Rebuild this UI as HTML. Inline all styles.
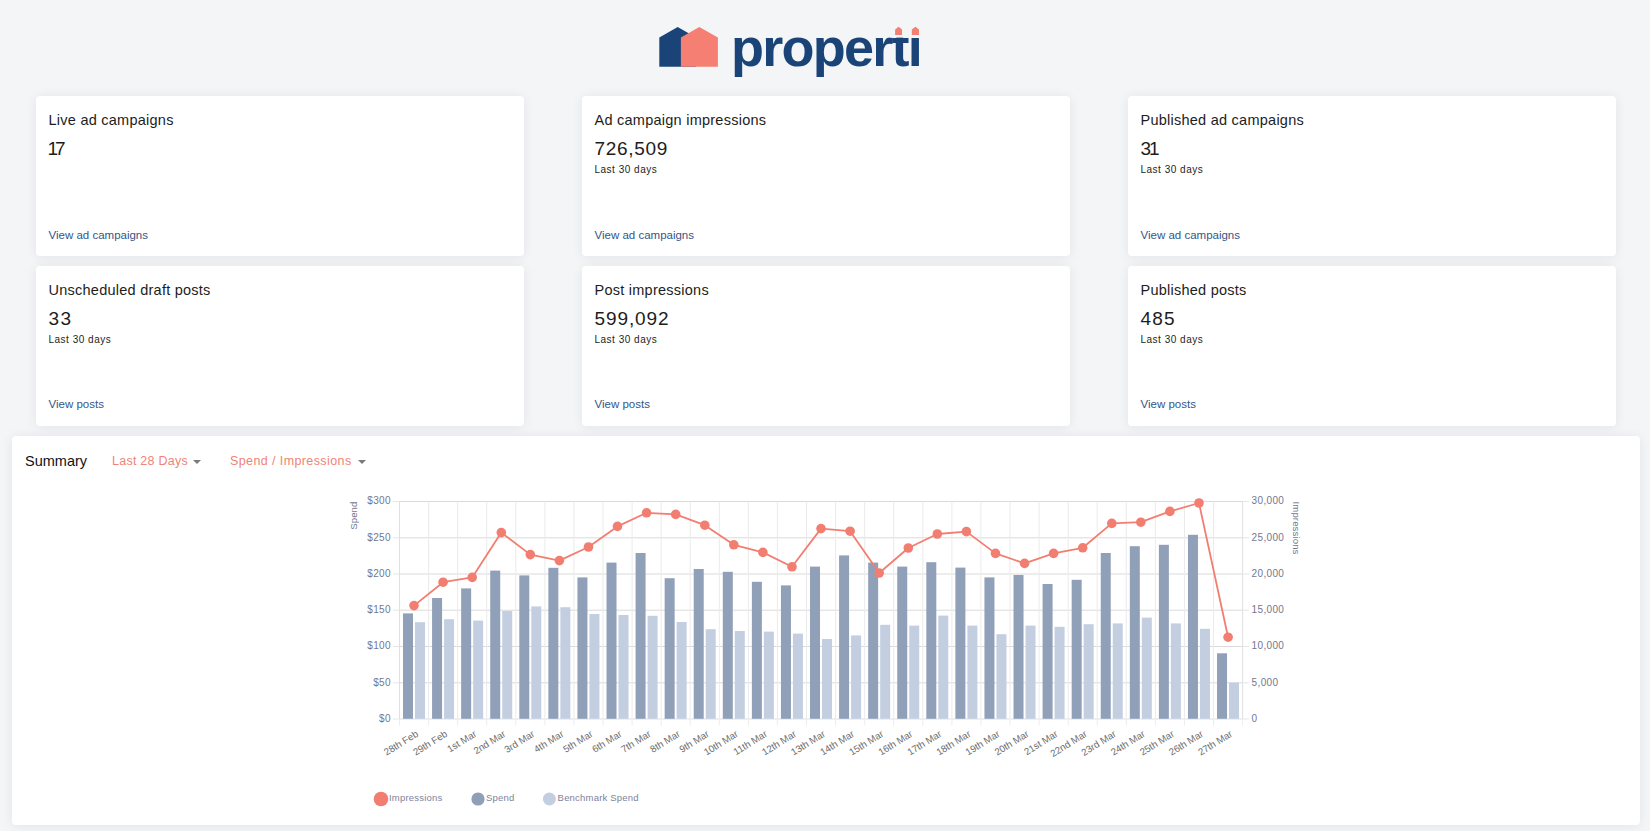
<!DOCTYPE html>
<html lang="en"><head><meta charset="utf-8"><title>properti dashboard</title>
<style>
*{box-sizing:border-box;margin:0;padding:0}
html,body{width:1650px;height:831px;overflow:hidden;background:#f4f5f7;font-family:"Liberation Sans",Arial,sans-serif;color:#1b1b1b}
.abs{position:absolute}
.logo-mark{position:absolute;left:659px;top:26px}
.logo-dots{position:absolute;left:890px;top:24px;z-index:5}
.logo-text{position:absolute;left:731px;top:15.5px;font-weight:bold;font-size:54px;line-height:62px;color:#1a4478;letter-spacing:-1.75px;white-space:nowrap}
.card{position:absolute;width:488px;height:160px;background:#fff;border-radius:4px;box-shadow:0 1px 12px rgba(20,25,35,.075)}
.ct{position:absolute;left:12.5px;top:15px;font-size:14.5px;letter-spacing:.25px;line-height:18px;white-space:nowrap;color:#1d1d1d}
.cn{position:absolute;left:12.5px;top:42px;font-size:19px;line-height:22px;white-space:nowrap;color:#1d1d1d}
.cs{position:absolute;left:12.5px;top:68px;font-size:10px;letter-spacing:.5px;line-height:12px;white-space:nowrap;color:#1d1d1d}
.cl{position:absolute;left:12.5px;top:132px;font-size:11.5px;line-height:14px;white-space:nowrap;color:#36558a}
.panel{position:absolute;left:12px;top:436px;width:1628px;height:389px;background:#fff;border-radius:4px;box-shadow:0 1px 12px rgba(20,25,35,.075)}
.sum{position:absolute;left:25px;top:451.5px;font-size:14.5px;line-height:18px;color:#111}
.dd{position:absolute;top:452.5px;font-size:12.5px;line-height:16px;color:#f08377;white-space:nowrap}
.caret{position:absolute;top:460px;width:0;height:0;border-left:4px solid transparent;border-right:4px solid transparent;border-top:4.5px solid #7a7a7a}
.chart{position:absolute;left:0;top:0}
</style></head><body>
<svg class="logo-mark" width="60" height="42" viewBox="659 26 60 42">
<polygon points="659.3,37.4 677.7,26.9 696,37.4 696,66.8 659.3,66.8" fill="#1a4478"/>
<polygon points="680.9,37.4 699.3,26.9 717.9,37.4 717.9,66.8 680.9,66.8" fill="#f57f72"/>
</svg>
<svg class="logo-dots" width="40" height="14" viewBox="890 24 40 14">
<rect x="888" y="20" width="40" height="17.6" fill="#f4f5f7"/>
<polygon points="895.1,29.4 898.6,26.8 902,29.4 902,34.9 895.1,34.9" fill="#f57f72"/>
<polygon points="911.8,29.4 915.4,26.8 919,29.4 919,34.9 911.8,34.9" fill="#f57f72"/>
</svg>
<div class="logo-text">properti</div>
<div class="card" style="left:36px;top:96px">
<div class="ct">Live ad campaigns</div><div class="cn" style="letter-spacing:-3.0px;left:11.5px">17</div>
<a class="cl">View ad campaigns</a></div>
<div class="card" style="left:582px;top:96px">
<div class="ct">Ad campaign impressions</div><div class="cn" style="letter-spacing:0.67px">726,509</div>
<div class="cs">Last 30 days</div>
<a class="cl">View ad campaigns</a></div>
<div class="card" style="left:1128px;top:96px">
<div class="ct">Published ad campaigns</div><div class="cn" style="letter-spacing:-2.0px">31</div>
<div class="cs">Last 30 days</div>
<a class="cl">View ad campaigns</a></div>
<div class="card" style="left:36px;top:266px">
<div class="ct">Unscheduled draft posts</div><div class="cn" style="letter-spacing:1.4px">33</div>
<div class="cs">Last 30 days</div>
<a class="cl" style="top:131px">View posts</a></div>
<div class="card" style="left:582px;top:266px">
<div class="ct">Post impressions</div><div class="cn" style="letter-spacing:0.9px">599,092</div>
<div class="cs">Last 30 days</div>
<a class="cl" style="top:131px">View posts</a></div>
<div class="card" style="left:1128px;top:266px">
<div class="ct">Published posts</div><div class="cn" style="letter-spacing:1.15px">485</div>
<div class="cs">Last 30 days</div>
<a class="cl" style="top:131px">View posts</a></div>
<div class="panel"></div>
<div class="sum">Summary</div>
<div class="dd" style="left:112px;letter-spacing:.25px">Last 28 Days</div><div class="caret" style="left:193px"></div>
<div class="dd" style="left:230px;letter-spacing:.4px">Spend / Impressions</div><div class="caret" style="left:357.5px"></div>
<svg class="chart" width="1650" height="831" viewBox="0 0 1650 831">
<line x1="393.0" y1="501.5" x2="399.5" y2="501.5" stroke="#e6e6e6" stroke-width="1"/>
<line x1="1242.6" y1="501.5" x2="1249.1" y2="501.5" stroke="#e6e6e6" stroke-width="1"/>
<line x1="399.5" y1="501.5" x2="1242.6" y2="501.5" stroke="#dadada" stroke-width="1"/>
<line x1="393.0" y1="537.8" x2="399.5" y2="537.8" stroke="#e6e6e6" stroke-width="1"/>
<line x1="1242.6" y1="537.8" x2="1249.1" y2="537.8" stroke="#e6e6e6" stroke-width="1"/>
<line x1="399.5" y1="537.8" x2="1242.6" y2="537.8" stroke="#dadada" stroke-width="1"/>
<line x1="393.0" y1="574.0" x2="399.5" y2="574.0" stroke="#e6e6e6" stroke-width="1"/>
<line x1="1242.6" y1="574.0" x2="1249.1" y2="574.0" stroke="#e6e6e6" stroke-width="1"/>
<line x1="399.5" y1="574.0" x2="1242.6" y2="574.0" stroke="#dadada" stroke-width="1"/>
<line x1="393.0" y1="610.2" x2="399.5" y2="610.2" stroke="#e6e6e6" stroke-width="1"/>
<line x1="1242.6" y1="610.2" x2="1249.1" y2="610.2" stroke="#e6e6e6" stroke-width="1"/>
<line x1="399.5" y1="610.2" x2="1242.6" y2="610.2" stroke="#dadada" stroke-width="1"/>
<line x1="393.0" y1="646.5" x2="399.5" y2="646.5" stroke="#e6e6e6" stroke-width="1"/>
<line x1="1242.6" y1="646.5" x2="1249.1" y2="646.5" stroke="#e6e6e6" stroke-width="1"/>
<line x1="399.5" y1="646.5" x2="1242.6" y2="646.5" stroke="#dadada" stroke-width="1"/>
<line x1="393.0" y1="682.8" x2="399.5" y2="682.8" stroke="#e6e6e6" stroke-width="1"/>
<line x1="1242.6" y1="682.8" x2="1249.1" y2="682.8" stroke="#e6e6e6" stroke-width="1"/>
<line x1="399.5" y1="682.8" x2="1242.6" y2="682.8" stroke="#dadada" stroke-width="1"/>
<line x1="393.0" y1="719.0" x2="399.5" y2="719.0" stroke="#e6e6e6" stroke-width="1"/>
<line x1="1242.6" y1="719.0" x2="1249.1" y2="719.0" stroke="#e6e6e6" stroke-width="1"/>
<line x1="399.5" y1="719.0" x2="1242.6" y2="719.0" stroke="#e0e0e0" stroke-width="1"/>
<line x1="399.5" y1="501.5" x2="399.5" y2="719.0" stroke="#e0e0e0" stroke-width="1"/>
<line x1="399.5" y1="719.0" x2="399.5" y2="725.6" stroke="#ededed" stroke-width="1"/>
<line x1="428.6" y1="501.5" x2="428.6" y2="719.0" stroke="#ebebeb" stroke-width="1"/>
<line x1="428.6" y1="719.0" x2="428.6" y2="725.6" stroke="#ededed" stroke-width="1"/>
<line x1="457.6" y1="501.5" x2="457.6" y2="719.0" stroke="#ebebeb" stroke-width="1"/>
<line x1="457.6" y1="719.0" x2="457.6" y2="725.6" stroke="#ededed" stroke-width="1"/>
<line x1="486.7" y1="501.5" x2="486.7" y2="719.0" stroke="#ebebeb" stroke-width="1"/>
<line x1="486.7" y1="719.0" x2="486.7" y2="725.6" stroke="#ededed" stroke-width="1"/>
<line x1="515.8" y1="501.5" x2="515.8" y2="719.0" stroke="#ebebeb" stroke-width="1"/>
<line x1="515.8" y1="719.0" x2="515.8" y2="725.6" stroke="#ededed" stroke-width="1"/>
<line x1="544.9" y1="501.5" x2="544.9" y2="719.0" stroke="#ebebeb" stroke-width="1"/>
<line x1="544.9" y1="719.0" x2="544.9" y2="725.6" stroke="#ededed" stroke-width="1"/>
<line x1="573.9" y1="501.5" x2="573.9" y2="719.0" stroke="#ebebeb" stroke-width="1"/>
<line x1="573.9" y1="719.0" x2="573.9" y2="725.6" stroke="#ededed" stroke-width="1"/>
<line x1="603.0" y1="501.5" x2="603.0" y2="719.0" stroke="#ebebeb" stroke-width="1"/>
<line x1="603.0" y1="719.0" x2="603.0" y2="725.6" stroke="#ededed" stroke-width="1"/>
<line x1="632.1" y1="501.5" x2="632.1" y2="719.0" stroke="#ebebeb" stroke-width="1"/>
<line x1="632.1" y1="719.0" x2="632.1" y2="725.6" stroke="#ededed" stroke-width="1"/>
<line x1="661.2" y1="501.5" x2="661.2" y2="719.0" stroke="#ebebeb" stroke-width="1"/>
<line x1="661.2" y1="719.0" x2="661.2" y2="725.6" stroke="#ededed" stroke-width="1"/>
<line x1="690.2" y1="501.5" x2="690.2" y2="719.0" stroke="#ebebeb" stroke-width="1"/>
<line x1="690.2" y1="719.0" x2="690.2" y2="725.6" stroke="#ededed" stroke-width="1"/>
<line x1="719.3" y1="501.5" x2="719.3" y2="719.0" stroke="#ebebeb" stroke-width="1"/>
<line x1="719.3" y1="719.0" x2="719.3" y2="725.6" stroke="#ededed" stroke-width="1"/>
<line x1="748.4" y1="501.5" x2="748.4" y2="719.0" stroke="#ebebeb" stroke-width="1"/>
<line x1="748.4" y1="719.0" x2="748.4" y2="725.6" stroke="#ededed" stroke-width="1"/>
<line x1="777.4" y1="501.5" x2="777.4" y2="719.0" stroke="#ebebeb" stroke-width="1"/>
<line x1="777.4" y1="719.0" x2="777.4" y2="725.6" stroke="#ededed" stroke-width="1"/>
<line x1="806.5" y1="501.5" x2="806.5" y2="719.0" stroke="#ebebeb" stroke-width="1"/>
<line x1="806.5" y1="719.0" x2="806.5" y2="725.6" stroke="#ededed" stroke-width="1"/>
<line x1="835.6" y1="501.5" x2="835.6" y2="719.0" stroke="#ebebeb" stroke-width="1"/>
<line x1="835.6" y1="719.0" x2="835.6" y2="725.6" stroke="#ededed" stroke-width="1"/>
<line x1="864.7" y1="501.5" x2="864.7" y2="719.0" stroke="#ebebeb" stroke-width="1"/>
<line x1="864.7" y1="719.0" x2="864.7" y2="725.6" stroke="#ededed" stroke-width="1"/>
<line x1="893.7" y1="501.5" x2="893.7" y2="719.0" stroke="#ebebeb" stroke-width="1"/>
<line x1="893.7" y1="719.0" x2="893.7" y2="725.6" stroke="#ededed" stroke-width="1"/>
<line x1="922.8" y1="501.5" x2="922.8" y2="719.0" stroke="#ebebeb" stroke-width="1"/>
<line x1="922.8" y1="719.0" x2="922.8" y2="725.6" stroke="#ededed" stroke-width="1"/>
<line x1="951.9" y1="501.5" x2="951.9" y2="719.0" stroke="#ebebeb" stroke-width="1"/>
<line x1="951.9" y1="719.0" x2="951.9" y2="725.6" stroke="#ededed" stroke-width="1"/>
<line x1="980.9" y1="501.5" x2="980.9" y2="719.0" stroke="#ebebeb" stroke-width="1"/>
<line x1="980.9" y1="719.0" x2="980.9" y2="725.6" stroke="#ededed" stroke-width="1"/>
<line x1="1010.0" y1="501.5" x2="1010.0" y2="719.0" stroke="#ebebeb" stroke-width="1"/>
<line x1="1010.0" y1="719.0" x2="1010.0" y2="725.6" stroke="#ededed" stroke-width="1"/>
<line x1="1039.1" y1="501.5" x2="1039.1" y2="719.0" stroke="#ebebeb" stroke-width="1"/>
<line x1="1039.1" y1="719.0" x2="1039.1" y2="725.6" stroke="#ededed" stroke-width="1"/>
<line x1="1068.2" y1="501.5" x2="1068.2" y2="719.0" stroke="#ebebeb" stroke-width="1"/>
<line x1="1068.2" y1="719.0" x2="1068.2" y2="725.6" stroke="#ededed" stroke-width="1"/>
<line x1="1097.2" y1="501.5" x2="1097.2" y2="719.0" stroke="#ebebeb" stroke-width="1"/>
<line x1="1097.2" y1="719.0" x2="1097.2" y2="725.6" stroke="#ededed" stroke-width="1"/>
<line x1="1126.3" y1="501.5" x2="1126.3" y2="719.0" stroke="#ebebeb" stroke-width="1"/>
<line x1="1126.3" y1="719.0" x2="1126.3" y2="725.6" stroke="#ededed" stroke-width="1"/>
<line x1="1155.4" y1="501.5" x2="1155.4" y2="719.0" stroke="#ebebeb" stroke-width="1"/>
<line x1="1155.4" y1="719.0" x2="1155.4" y2="725.6" stroke="#ededed" stroke-width="1"/>
<line x1="1184.5" y1="501.5" x2="1184.5" y2="719.0" stroke="#ebebeb" stroke-width="1"/>
<line x1="1184.5" y1="719.0" x2="1184.5" y2="725.6" stroke="#ededed" stroke-width="1"/>
<line x1="1213.5" y1="501.5" x2="1213.5" y2="719.0" stroke="#ebebeb" stroke-width="1"/>
<line x1="1213.5" y1="719.0" x2="1213.5" y2="725.6" stroke="#ededed" stroke-width="1"/>
<line x1="1242.6" y1="501.5" x2="1242.6" y2="719.0" stroke="#e0e0e0" stroke-width="1"/>
<line x1="1242.6" y1="719.0" x2="1242.6" y2="725.6" stroke="#ededed" stroke-width="1"/>
<rect x="403.00" y="613.4" width="10" height="105.4" fill="#91a0b9"/>
<rect x="415.00" y="622.2" width="10" height="96.6" fill="#c3cfe0"/>
<rect x="432.07" y="598.0" width="10" height="120.8" fill="#91a0b9"/>
<rect x="444.07" y="619.2" width="10" height="99.6" fill="#c3cfe0"/>
<rect x="461.14" y="588.4" width="10" height="130.4" fill="#91a0b9"/>
<rect x="473.14" y="620.6" width="10" height="98.2" fill="#c3cfe0"/>
<rect x="490.22" y="570.6" width="10" height="148.2" fill="#91a0b9"/>
<rect x="502.22" y="611.0" width="10" height="107.8" fill="#c3cfe0"/>
<rect x="519.29" y="575.4" width="10" height="143.4" fill="#91a0b9"/>
<rect x="531.29" y="606.4" width="10" height="112.4" fill="#c3cfe0"/>
<rect x="548.36" y="567.8" width="10" height="151.0" fill="#91a0b9"/>
<rect x="560.36" y="607.2" width="10" height="111.6" fill="#c3cfe0"/>
<rect x="577.43" y="577.4" width="10" height="141.4" fill="#91a0b9"/>
<rect x="589.43" y="614.0" width="10" height="104.8" fill="#c3cfe0"/>
<rect x="606.51" y="562.6" width="10" height="156.2" fill="#91a0b9"/>
<rect x="618.51" y="615.0" width="10" height="103.8" fill="#c3cfe0"/>
<rect x="635.58" y="553.0" width="10" height="165.8" fill="#91a0b9"/>
<rect x="647.58" y="615.8" width="10" height="103.0" fill="#c3cfe0"/>
<rect x="664.65" y="578.2" width="10" height="140.6" fill="#91a0b9"/>
<rect x="676.65" y="622.0" width="10" height="96.8" fill="#c3cfe0"/>
<rect x="693.72" y="569.0" width="10" height="149.8" fill="#91a0b9"/>
<rect x="705.72" y="629.2" width="10" height="89.6" fill="#c3cfe0"/>
<rect x="722.80" y="571.8" width="10" height="147.0" fill="#91a0b9"/>
<rect x="734.80" y="631.0" width="10" height="87.8" fill="#c3cfe0"/>
<rect x="751.87" y="581.8" width="10" height="137.0" fill="#91a0b9"/>
<rect x="763.87" y="631.6" width="10" height="87.2" fill="#c3cfe0"/>
<rect x="780.94" y="585.4" width="10" height="133.4" fill="#91a0b9"/>
<rect x="792.94" y="633.6" width="10" height="85.2" fill="#c3cfe0"/>
<rect x="810.01" y="566.6" width="10" height="152.2" fill="#91a0b9"/>
<rect x="822.01" y="639.0" width="10" height="79.8" fill="#c3cfe0"/>
<rect x="839.09" y="555.4" width="10" height="163.4" fill="#91a0b9"/>
<rect x="851.09" y="635.4" width="10" height="83.4" fill="#c3cfe0"/>
<rect x="868.16" y="562.6" width="10" height="156.2" fill="#91a0b9"/>
<rect x="880.16" y="624.8" width="10" height="94.0" fill="#c3cfe0"/>
<rect x="897.23" y="566.6" width="10" height="152.2" fill="#91a0b9"/>
<rect x="909.23" y="625.6" width="10" height="93.2" fill="#c3cfe0"/>
<rect x="926.30" y="562.2" width="10" height="156.6" fill="#91a0b9"/>
<rect x="938.30" y="615.6" width="10" height="103.2" fill="#c3cfe0"/>
<rect x="955.38" y="567.6" width="10" height="151.2" fill="#91a0b9"/>
<rect x="967.38" y="625.6" width="10" height="93.2" fill="#c3cfe0"/>
<rect x="984.45" y="577.4" width="10" height="141.4" fill="#91a0b9"/>
<rect x="996.45" y="634.2" width="10" height="84.6" fill="#c3cfe0"/>
<rect x="1013.52" y="575.0" width="10" height="143.8" fill="#91a0b9"/>
<rect x="1025.52" y="625.6" width="10" height="93.2" fill="#c3cfe0"/>
<rect x="1042.59" y="584.0" width="10" height="134.8" fill="#91a0b9"/>
<rect x="1054.59" y="626.8" width="10" height="92.0" fill="#c3cfe0"/>
<rect x="1071.67" y="579.8" width="10" height="139.0" fill="#91a0b9"/>
<rect x="1083.67" y="624.2" width="10" height="94.6" fill="#c3cfe0"/>
<rect x="1100.74" y="553.0" width="10" height="165.8" fill="#91a0b9"/>
<rect x="1112.74" y="623.4" width="10" height="95.4" fill="#c3cfe0"/>
<rect x="1129.81" y="546.2" width="10" height="172.6" fill="#91a0b9"/>
<rect x="1141.81" y="617.6" width="10" height="101.2" fill="#c3cfe0"/>
<rect x="1158.88" y="544.8" width="10" height="174.0" fill="#91a0b9"/>
<rect x="1170.88" y="623.4" width="10" height="95.4" fill="#c3cfe0"/>
<rect x="1187.96" y="534.8" width="10" height="184.0" fill="#91a0b9"/>
<rect x="1199.96" y="628.8" width="10" height="90.0" fill="#c3cfe0"/>
<rect x="1217.03" y="653.3" width="10" height="65.5" fill="#91a0b9"/>
<rect x="1229.03" y="682.6" width="10" height="36.2" fill="#c3cfe0"/>
<polyline points="414.0,605.6 443.1,582.2 472.2,577.4 501.3,532.6 530.3,554.6 559.4,560.6 588.5,547.0 617.5,526.4 646.6,512.8 675.7,514.4 704.8,525.2 733.8,544.8 762.9,552.4 792.0,566.8 821.0,528.6 850.1,531.2 879.2,573.0 908.3,548.0 937.3,534.0 966.4,531.6 995.5,553.4 1024.6,563.4 1053.6,553.4 1082.7,547.8 1111.8,523.4 1140.8,522.2 1169.9,511.4 1199.0,503.0 1228.1,637.2" fill="none" stroke="#f27e71" stroke-width="1.8" stroke-linejoin="round"/>
<circle cx="414.0" cy="605.6" r="4.8" fill="#f27e71"/>
<circle cx="443.1" cy="582.2" r="4.8" fill="#f27e71"/>
<circle cx="472.2" cy="577.4" r="4.8" fill="#f27e71"/>
<circle cx="501.3" cy="532.6" r="4.8" fill="#f27e71"/>
<circle cx="530.3" cy="554.6" r="4.8" fill="#f27e71"/>
<circle cx="559.4" cy="560.6" r="4.8" fill="#f27e71"/>
<circle cx="588.5" cy="547.0" r="4.8" fill="#f27e71"/>
<circle cx="617.5" cy="526.4" r="4.8" fill="#f27e71"/>
<circle cx="646.6" cy="512.8" r="4.8" fill="#f27e71"/>
<circle cx="675.7" cy="514.4" r="4.8" fill="#f27e71"/>
<circle cx="704.8" cy="525.2" r="4.8" fill="#f27e71"/>
<circle cx="733.8" cy="544.8" r="4.8" fill="#f27e71"/>
<circle cx="762.9" cy="552.4" r="4.8" fill="#f27e71"/>
<circle cx="792.0" cy="566.8" r="4.8" fill="#f27e71"/>
<circle cx="821.0" cy="528.6" r="4.8" fill="#f27e71"/>
<circle cx="850.1" cy="531.2" r="4.8" fill="#f27e71"/>
<circle cx="879.2" cy="573.0" r="4.8" fill="#f27e71"/>
<circle cx="908.3" cy="548.0" r="4.8" fill="#f27e71"/>
<circle cx="937.3" cy="534.0" r="4.8" fill="#f27e71"/>
<circle cx="966.4" cy="531.6" r="4.8" fill="#f27e71"/>
<circle cx="995.5" cy="553.4" r="4.8" fill="#f27e71"/>
<circle cx="1024.6" cy="563.4" r="4.8" fill="#f27e71"/>
<circle cx="1053.6" cy="553.4" r="4.8" fill="#f27e71"/>
<circle cx="1082.7" cy="547.8" r="4.8" fill="#f27e71"/>
<circle cx="1111.8" cy="523.4" r="4.8" fill="#f27e71"/>
<circle cx="1140.8" cy="522.2" r="4.8" fill="#f27e71"/>
<circle cx="1169.9" cy="511.4" r="4.8" fill="#f27e71"/>
<circle cx="1199.0" cy="503.0" r="4.8" fill="#f27e71"/>
<circle cx="1228.1" cy="637.2" r="4.8" fill="#f27e71"/>
<g font-family="Liberation Sans, Arial, sans-serif" font-size="10" letter-spacing="0.35" fill="#72778f">
<text x="390.9" y="504.4" text-anchor="end">$300</text>
<text x="390.9" y="540.6" text-anchor="end">$250</text>
<text x="390.9" y="576.9" text-anchor="end">$200</text>
<text x="390.9" y="613.1" text-anchor="end">$150</text>
<text x="390.9" y="649.4" text-anchor="end">$100</text>
<text x="390.9" y="685.6" text-anchor="end">$50</text>
<text x="390.9" y="721.9" text-anchor="end">$0</text>
<text x="1251.6" y="504.4" text-anchor="start">30,000</text>
<text x="1251.6" y="540.6" text-anchor="start">25,000</text>
<text x="1251.6" y="576.9" text-anchor="start">20,000</text>
<text x="1251.6" y="613.1" text-anchor="start">15,000</text>
<text x="1251.6" y="649.4" text-anchor="start">10,000</text>
<text x="1251.6" y="685.6" text-anchor="start">5,000</text>
<text x="1251.6" y="721.9" text-anchor="start">0</text>
<text transform="translate(357,501.5) rotate(-90)" text-anchor="end" font-size="9.6" letter-spacing="0.1">Spend</text>
<text transform="translate(1292.5,501.5) rotate(90)" text-anchor="start" font-size="9.6" letter-spacing="0.12">Impressions</text>
</g>
<g font-family="Liberation Sans, Arial, sans-serif" font-size="9.7" fill="#6b6b6b">
<text transform="translate(419.0,735.6) rotate(-32)" text-anchor="end">28th Feb</text>
<text transform="translate(448.1,735.6) rotate(-32)" text-anchor="end">29th Feb</text>
<text transform="translate(477.2,735.6) rotate(-32)" text-anchor="end">1st Mar</text>
<text transform="translate(506.3,735.6) rotate(-32)" text-anchor="end">2nd Mar</text>
<text transform="translate(535.3,735.6) rotate(-32)" text-anchor="end">3rd Mar</text>
<text transform="translate(564.4,735.6) rotate(-32)" text-anchor="end">4th Mar</text>
<text transform="translate(593.5,735.6) rotate(-32)" text-anchor="end">5th Mar</text>
<text transform="translate(622.5,735.6) rotate(-32)" text-anchor="end">6th Mar</text>
<text transform="translate(651.6,735.6) rotate(-32)" text-anchor="end">7th Mar</text>
<text transform="translate(680.7,735.6) rotate(-32)" text-anchor="end">8th Mar</text>
<text transform="translate(709.8,735.6) rotate(-32)" text-anchor="end">9th Mar</text>
<text transform="translate(738.8,735.6) rotate(-32)" text-anchor="end">10th Mar</text>
<text transform="translate(767.9,735.6) rotate(-32)" text-anchor="end">11th Mar</text>
<text transform="translate(797.0,735.6) rotate(-32)" text-anchor="end">12th Mar</text>
<text transform="translate(826.0,735.6) rotate(-32)" text-anchor="end">13th Mar</text>
<text transform="translate(855.1,735.6) rotate(-32)" text-anchor="end">14th Mar</text>
<text transform="translate(884.2,735.6) rotate(-32)" text-anchor="end">15th Mar</text>
<text transform="translate(913.3,735.6) rotate(-32)" text-anchor="end">16th Mar</text>
<text transform="translate(942.3,735.6) rotate(-32)" text-anchor="end">17th Mar</text>
<text transform="translate(971.4,735.6) rotate(-32)" text-anchor="end">18th Mar</text>
<text transform="translate(1000.5,735.6) rotate(-32)" text-anchor="end">19th Mar</text>
<text transform="translate(1029.6,735.6) rotate(-32)" text-anchor="end">20th Mar</text>
<text transform="translate(1058.6,735.6) rotate(-32)" text-anchor="end">21st Mar</text>
<text transform="translate(1087.7,735.6) rotate(-32)" text-anchor="end">22nd Mar</text>
<text transform="translate(1116.8,735.6) rotate(-32)" text-anchor="end">23rd Mar</text>
<text transform="translate(1145.8,735.6) rotate(-32)" text-anchor="end">24th Mar</text>
<text transform="translate(1174.9,735.6) rotate(-32)" text-anchor="end">25th Mar</text>
<text transform="translate(1204.0,735.6) rotate(-32)" text-anchor="end">26th Mar</text>
<text transform="translate(1233.1,735.6) rotate(-32)" text-anchor="end">27th Mar</text>
</g>
<g font-family="Liberation Sans, Arial, sans-serif" font-size="9.5" letter-spacing="0.2" fill="#7d839b">
<circle cx="381" cy="799" r="7.3" fill="#f27e71"/><text x="389" y="801.3">Impressions</text>
<circle cx="478" cy="799" r="6.6" fill="#8f9fb7"/><text x="486" y="801.3">Spend</text>
<circle cx="549.4" cy="799" r="6.5" fill="#c3cfe0"/><text x="557.6" y="801.3">Benchmark Spend</text>
</g>
</svg>
</body></html>
